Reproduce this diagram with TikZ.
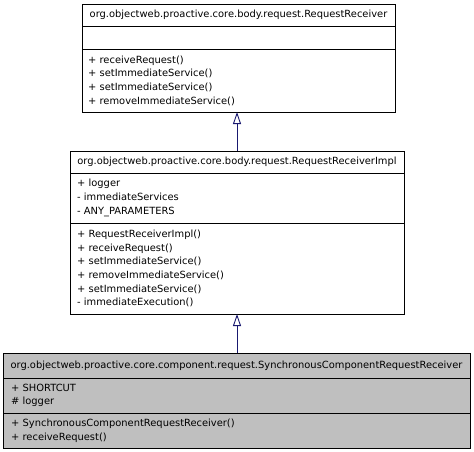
\documentclass[tikz,border=0pt]{standalone}
\usepackage{fontspec}
\setmainfont{DejaVu Sans}
\usetikzlibrary{arrows.meta}
\definecolor{edgeblue}{HTML}{191970}
\definecolor{boxgray}{HTML}{BFBFBF}
\begin{document}
\begin{tikzpicture}[x=1pt,y=-1pt,
  box/.style={draw=black, line width=0.8pt, inner sep=0pt, outer sep=0pt},
  divider/.style={draw=black, line width=0.8pt},
  txt/.style={font=\fontsize{9.9}{13.7}\selectfont, inner sep=0pt, anchor=west, align=left},
  ttl/.style={font=\fontsize{9.9}{13.7}\selectfont, inner sep=0pt},
  inherit/.style={draw=edgeblue, line width=0.9pt, -{Triangle[open, width=8pt, length=12pt]}}]
\useasboundingbox (0,0) rectangle (474,452);
% box 1
\node[box, fill=white, minimum width=313pt, minimum height=108pt] (b1) at (238.5,58) {};
\draw[divider] (b1.west |- 0,26) -- (b1.east |- 0,26);
\draw[divider] (b1.west |- 0,49) -- (b1.east |- 0,49);
\node[ttl] (b1t) at (238.5,15) {org.objectweb.proactive.core.body.request.RequestReceiver};
\node[txt] (b1m) at (88,80.5) {+ receiveRequest()\\+ setImmediateService()\\+ setImmediateService()\\+ removeImmediateService()};
% box 2
\node[box, fill=white, minimum width=334pt, minimum height=163pt] (b2) at (237,232.5) {};
\draw[divider] (b2.west |- 0,173) -- (b2.east |- 0,173);
\draw[divider] (b2.west |- 0,223) -- (b2.east |- 0,223);
\node[ttl] (b2t) at (237,162) {org.objectweb.proactive.core.body.request.RequestReceiverImpl};
\node[txt] (b2a) at (77,198) {+ logger\\- immediateServices\\- ANY\_PARAMETERS};
\node[txt] (b2m) at (77,268.5) {+ RequestReceiverImpl()\\+ receiveRequest()\\+ setImmediateService()\\+ removeImmediateService()\\+ setImmediateService()\\- immediateExecution()};
% box 3
\node[box, fill=boxgray, minimum width=467pt, minimum height=95pt] (b3) at (236.5,400.5) {};
\draw[divider] (b3.west |- 0,378) -- (b3.east |- 0,378);
\draw[divider] (b3.west |- 0,413) -- (b3.east |- 0,413);
\node[ttl] (b3t) at (236.5,365.5) {org.objectweb.proactive.core.component.request.SynchronousComponentRequestReceiver};
\node[txt] (b3a) at (11,395.5) {+ SHORTCUT\\\# logger};
\node[txt] (b3m) at (11,430.5) {+ SynchronousComponentRequestReceiver()\\+ receiveRequest()};
% inheritance
\draw[inherit] (b2.north) -- (b2.north |- b1.south);
\draw[inherit] (b3.north -| b2.south) -- (b2.south);
\end{tikzpicture}
\end{document}
